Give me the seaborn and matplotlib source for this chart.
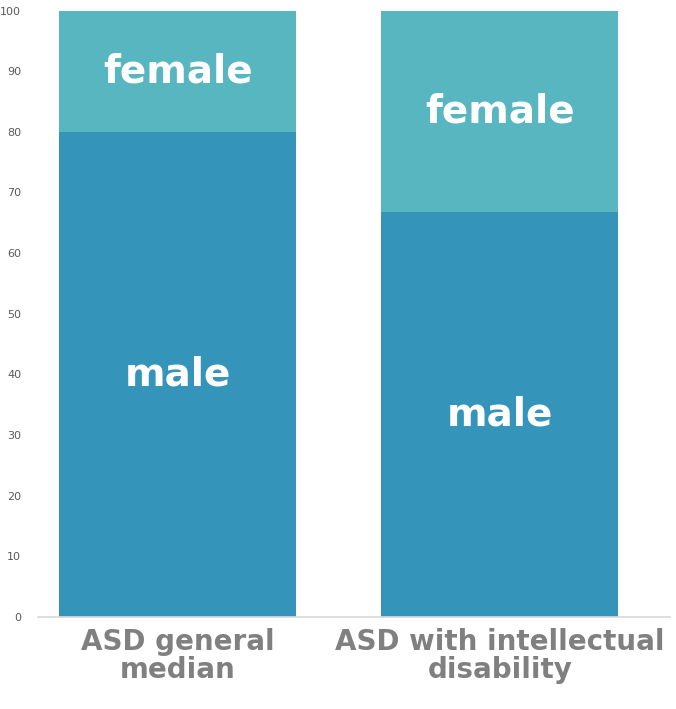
import matplotlib
matplotlib.use("Agg")
import matplotlib.pyplot as plt
import seaborn as sns
import pandas as pd

categories = ["ASD general\nmedian", "ASD with intellectual\ndisability"]
male = [80, 66.7]
female = [20, 33.3]
yticks = [0, 10, 20, 30, 40, 50, 60, 70, 80, 90, 100]

sns.set_theme(style="white")
plt.rcParams['font.family'] = ['DejaVu Sans']

df = pd.DataFrame({"cat": categories, "male": male, "total": [m + f for m, f in zip(male, female)]})

fig = plt.figure(figsize=(6.76, 7.09), dpi=100)
ax = fig.add_axes([0.056, 0.13, 0.935, 0.855])

sns.barplot(data=df, x="cat", y="total", color="#58b6c0", width=0.736, saturation=1,
            linewidth=0, ax=ax)
sns.barplot(data=df, x="cat", y="male", color="#3494ba", width=0.736, saturation=1,
            linewidth=0, ax=ax)

for i, (m, f) in enumerate(zip(male, female)):
    ax.text(i, m / 2, "male", ha="center", va="center", color="white",
            fontsize=28, fontweight="bold")
    ax.text(i, m + f / 2, "female", ha="center", va="center", color="white",
            fontsize=28, fontweight="bold")

ax.set_ylim(0, 100)
ax.set_xlim(-0.435, 1.528)
ax.set_yticks(yticks)
ax.tick_params(axis="y", labelsize=8, labelcolor="#595959", length=0, pad=12)
ax.tick_params(axis="x", labelsize=20, labelcolor="#808080", length=0, pad=8)
for lbl in ax.get_xticklabels():
    lbl.set_fontweight("bold")
    lbl.set_linespacing(1.0)
ax.set_xlabel("")
ax.set_ylabel("")
for s in ["top", "right", "left"]:
    ax.spines[s].set_visible(False)
ax.spines["bottom"].set_color("#d9d9d9")

fig.savefig("out.png", dpi=100)
